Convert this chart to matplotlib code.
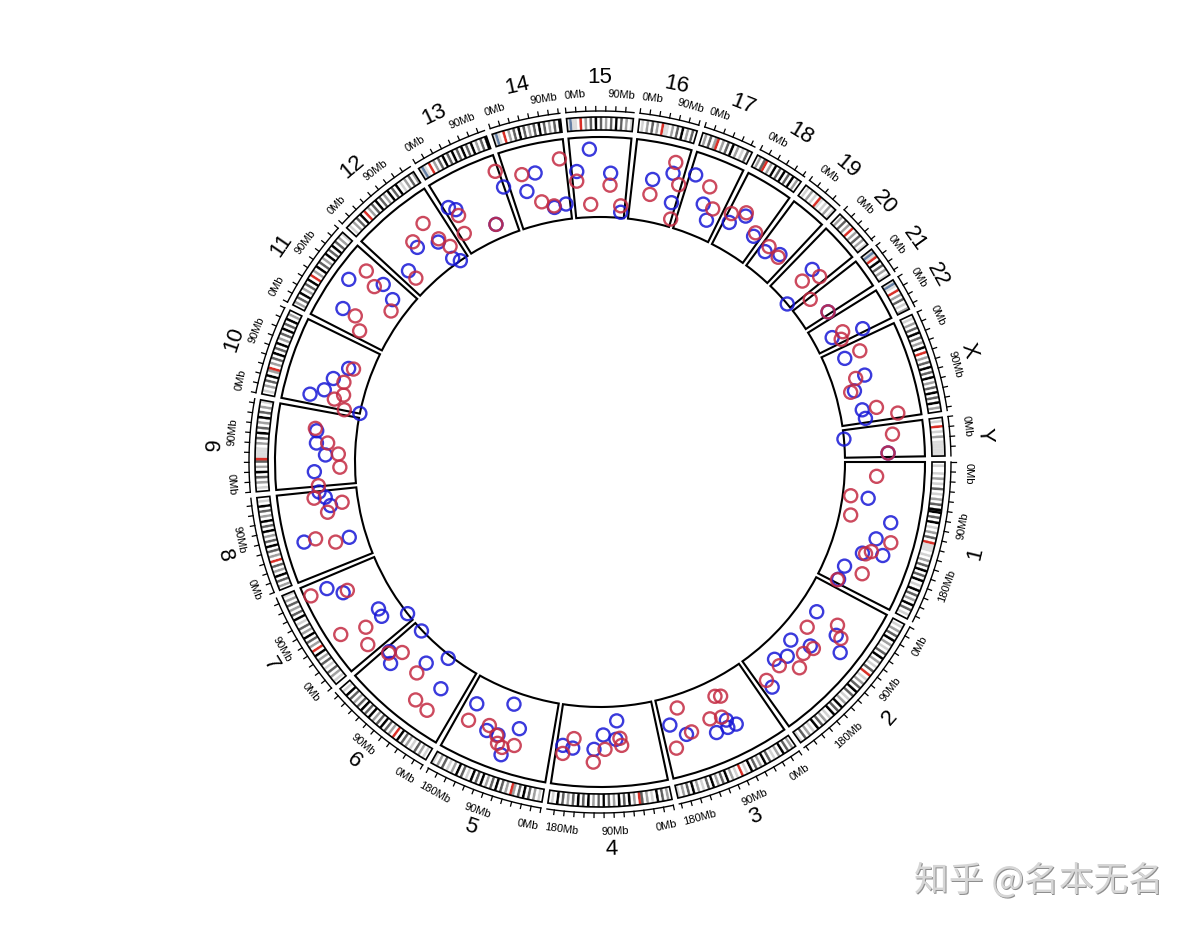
import numpy as np
import matplotlib
matplotlib.use('Agg')
import matplotlib.pyplot as plt
from matplotlib.patches import Wedge

plt.rcParams['font.family'] = ['Liberation Sans', 'DejaVu Sans']

# ---------------- data ----------------
chrom_names = ['1', '2', '3', '4', '5', '6', '7', '8', '9', '10', '11', '12',
               '13', '14', '15', '16', '17', '18', '19', '20', '21', '22', 'X', 'Y']
chrom_lengths = [249.25, 243.20, 198.02, 191.15, 180.92, 171.12, 159.14, 146.36,
                 141.21, 135.53, 135.01, 133.85, 115.17, 107.35, 102.53, 90.35,
                 81.20, 78.08, 59.13, 63.03, 48.13, 51.30, 155.27, 59.37]  # Mb

# approximate cytoband stains, equal-width segments along each chromosome
# 0 gneg, 1 gpos25, 2 gpos50/66, 3 gpos75, 4 gpos100, c acen, g gvar, s stalk
band_codes = [
    "0100102010301020304403040102030" + "c" + "ggg" + "010203040304010403020403010",
    "01020304020103040201030" + "c" + "010203040301020403040102030401020301",
    "02030402010304020304010" + "c" + "01020403020403010204030201",
    "020304010203" + "c" + "02040304020304030204030403020304010",
    "010203040302" + "c" + "02030403020403040103040201030201",
    "010203010203040" + "c" + "020304030204030403020304010",
    "010203010302040" + "c" + "020304020301040302030201",
    "02030402030" + "c" + "0203040302040304020304010",
    "010203040203" + "c" + "gggg020304030204030201",
    "0102030402" + "c" + "02030403040203040304020",
    "0203040203040" + "c" + "02040302040304030201",
    "010203040" + "c" + "020304030204030401020302",
    "gsg0" + "c" + "020304030403040304020304",
    "gsg0" + "c" + "0203040302030403020304",
    "gsgg0" + "c" + "02030403020304030201",
    "010203020" + "c" + "gg02030402030",
    "020302" + "c" + "0203040201030",
    "0203" + "c" + "020403040304020",
    "0102010" + "c" + "g010201",
    "0203020" + "c" + "02030201",
    "gsg" + "c" + "04030201",
    "gsg0" + "c" + "02030102",
    "010203040302040" + "c" + "02030403040203040304020",
    "010" + "c" + "01020gggggg",
]
band_colors = {'0': '#FFFFFF', '1': '#D2D2D2', '2': '#A0A0A0', '3': '#606060',
               '4': '#000000', 'c': '#D92F27', 'g': '#DCDCDC', 's': '#647FA4'}

red_chrom = ['1'] * 8 + ['2'] * 8 + ['3'] * 7 + ['4'] * 6 + ['5'] * 6 + ['6'] * 5 + \
            ['7'] * 5 + ['8'] * 5 + ['9'] * 5 + ['10'] * 5 + ['11'] * 5 + ['12'] * 5 + \
            ['13'] * 4 + ['14'] * 4 + ['15'] * 4 + ['16'] * 4 + ['17'] * 2 + ['18'] * 3 + \
            ['19'] * 2 + ['20'] * 2 + ['21'] * 2 + ['22'] * 2 + ['X'] * 5 + ['Y'] * 2
red_pos = [27.3, 70.6, 110.0, 143.0, 175.8, 168.3, 212.7, 243.0,
           96.9, 59.4, 75.3, 120.7, 140.1, 189.7, 164.4, 226.9,
           157.8, 77.5, 67.2, 104.8, 83.6, 145.7, 180.5,
           73.1, 70.8, 101.9, 122.9, 160.5, 178.2,
           159.3, 120.5, 101.3, 95.1, 85.3, 65.8,
           98.1, 68.6, 41.8, 145.1, 161.8,
           140.5, 121.3, 59.5, 45.1, 17.7,
           61.8, 45.8, 134.6, 104.8, 119.4,
           107.6, 82.3, 61.6, 35.0, 1.2,
           85.4, 54.4, 29.9, 17.8, 1.5,
           112.1, 99.1, 80.7, 34.5, 13.9,
           98.4, 63.4, 104.9, 114.6, 20.3,
           17.3, 9.4, 109.6, 74.4,
           97.6, 27.7, 51.6, 74.2,
           7.7, 70.4, 32.3, 93.9,
           70.4, 85.6, 36.9, 89.0,
           40.4, 61.2,
           6.4, 29.9, 64.5,
           13.6, 40.3,
           53.1, 38.0,
           3.3, 43.6,
           33.5, 45.1,
           19.6, 66.3, 89.9, 130.1, 147.1,
           18.4, 52.1]
red_value = [0.40, 0.10, 0.14, 0.71, 0.45, 0.51, 0.50, 0.25,
             0.25, 0.54, 0.67, 0.48, 0.43, 0.33, 0.52, 0.37,
             0.16, 0.20, 0.23, 0.43, 0.47, 0.50, 0.64,
             0.40, 0.49, 0.53, 0.69, 0.41, 0.61,
             0.56, 0.51, 0.59, 0.68, 0.71, 0.64,
             0.43, 0.70, 0.72, 0.37, 0.50,
             0.92, 0.48, 0.83, 0.52, 0.63,
             0.62, 0.39, 0.54, 0.40, 0.20,
             0.52, 0.35, 0.21, 0.19, 0.47,
             0.23, 0.29, 0.25, 0.35, 0.20,
             0.71, 0.51, 0.16, 0.50, 0.36,
             0.65, 0.55, 0.38, 0.22, 0.19,
             0.49, 0.26, 0.80, 0.18,
             0.76, 0.66, 0.27, 0.19,
             0.46, 0.40, 0.16, 0.15,
             0.80, 0.54, 0.34, 0.10,
             0.64, 0.40,
             0.45, 0.55, 0.40,
             0.36, 0.33,
             0.53, 0.33,
             0.26, 0.35,
             0.38, 0.32,
             0.47, 0.30, 0.19, 0.46, 0.71,
             0.61, 0.54]

blue_chrom = ['1'] * 7 + ['2'] * 8 + ['3'] * 6 + ['4'] * 6 + ['5'] * 6 + ['6'] * 6 + \
             ['7'] * 5 + ['8'] * 5 + ['9'] * 4 + ['10'] * 5 + ['11'] * 4 + ['12'] * 5 + \
             ['13'] * 4 + ['14'] * 4 + ['15'] * 4 + ['16'] * 3 + ['17'] * 3 + ['18'] * 3 + \
             ['19'] * 2 + ['20'] * 2 + ['21'] * 1 + ['22'] * 2 + ['X'] * 5 + ['Y'] * 2
blue_pos = [71.0, 108.8, 143.3, 176.5, 168.6, 212.5, 241.0,
            60.7, 75.7, 138.0, 121.0, 95.6, 165.8, 188.4, 226.1,
            181.3, 78.0, 65.3, 81.4, 156.0, 103.6,
            77.1, 104.8, 80.8, 122.1, 161.3, 179.9,
            159.5, 90.9, 121.3, 65.7, 99.5, 82.8,
            149.7, 67.9, 96.8, 43.6, 162.9, 145.4,
            140.3, 120.9, 60.3, 44.7, 17.1,
            61.6, 47.1, 145.0, 133.8, 116.5,
            103.5, 80.8, 59.0, 27.6,
            83.2, 55.3, 30.3, 16.4, 0.5,
            82.2, 112.6, 101.0, 34.5,
            63.1, 100.6, 20.3, 104.8, 115.2,
            8.7, 18.3, 114.2, 74.4,
            51.3, 28.6, 74.5, 98.7,
            33.4, 9.2, 70.8, 95.0,
            70.4, 36.8, 81.5,
            9.8, 41.0, 59.0,
            10.8, 31.9, 65.0,
            13.5, 39.5,
            34.2, 53.1,
            43.6,
            45.6, 33.9,
            21.7, 65.6, 89.2, 129.4, 147.1,
            19.1, 52.1]
blue_value = [0.32, 0.65, 0.52, 0.41, 0.66, 0.26, 0.26,
              0.23, 0.60, 0.20, 0.43, 0.77, 0.31, 0.23, 0.48,
              0.34, 0.53, 0.63, 0.62, 0.51, 0.62,
              0.18, 0.35, 0.41, 0.53, 0.53, 0.51,
              0.33, 0.15, 0.58, 0.42, 0.58, 0.80,
              0.01, 0.04, 0.26, 0.40, 0.48, 0.57,
              0.70, 0.54, 0.26, 0.28, 0.00,
              0.77, 0.21, 0.47, 0.40, 0.35,
              0.50, 0.49, 0.37, 0.51,
              0.29, 0.43, 0.50, 0.66, 0.00,
              0.82, 0.44, 0.23, 0.68,
              0.46, 0.35, 0.32, 0.08, 0.00,
              0.64, 0.57, 0.58, 0.18,
              0.64, 0.44, 0.17, 0.19,
              0.85, 0.58, 0.55, 0.07,
              0.66, 0.53, 0.30,
              0.72, 0.41, 0.24,
              0.34, 0.51, 0.35,
              0.28, 0.37,
              0.52, 0.00,
              0.35,
              0.62, 0.23,
              0.26, 0.42, 0.24, 0.28, 0.30,
              0.00, 0.54]

tick_step = 15      # Mb
label_step = 90     # Mb
watermark = "知乎 @名本无名"

# ---------------- layout ----------------
W, H = 1200, 928
cx, cy = 600, 465
gap_deg = 1.0
R_TRACK_IN, R_TRACK_OUT = 245, 325
R_IDEO_IN, R_IDEO_OUT = 332, 345
R_AXIS, TICK_LEN = 351, 4.5
R_TICKLAB, R_NAME = 368.5, 386
TICK_FS, NAME_FS = 8, 16

n = len(chrom_names)
deg_per_mb = (360.0 - gap_deg * n) / sum(chrom_lengths)
starts = {}
acc = 0.0
for name, L in zip(chrom_names, chrom_lengths):
    starts[name] = acc
    acc += L * deg_per_mb + gap_deg


def theta_of(name, pos):
    return starts[name] + pos * deg_per_mb   # clockwise degrees from 3 o'clock


def xy(theta, r):
    a = np.deg2rad(-np.asarray(theta))
    return cx + r * np.cos(a), cy + r * np.sin(a)


def facing_rot(theta):
    a = (-theta) % 360.0
    rot = a - 90.0
    flip = 180.0 < a < 360.0
    if flip:
        rot += 180.0
    return rot, flip


fig = plt.figure(figsize=(W / 100, H / 100), dpi=100)
ax = fig.add_axes([0, 0, 1, 1])
ax.set_xlim(0, W)
ax.set_ylim(0, H)
ax.axis('off')

for name, L, code in zip(chrom_names, chrom_lengths, band_codes):
    t0 = starts[name]
    t1 = t0 + L * deg_per_mb
    # track box
    ax.add_patch(Wedge((cx, cy), R_TRACK_OUT, -t1, -t0, width=R_TRACK_OUT - R_TRACK_IN,
                       facecolor='none', edgecolor='black', lw=1.5, zorder=2))
    # ideogram bands
    nb = len(code)
    for i, ch in enumerate(code):
        b0 = t0 + (t1 - t0) * i / nb
        b1 = t0 + (t1 - t0) * (i + 1) / nb
        ax.add_patch(Wedge((cx, cy), R_IDEO_OUT, -b1, -b0, width=R_IDEO_OUT - R_IDEO_IN,
                           facecolor=band_colors[ch], edgecolor=band_colors[ch],
                           lw=0.2, zorder=1))
    ax.add_patch(Wedge((cx, cy), R_IDEO_OUT, -t1, -t0, width=R_IDEO_OUT - R_IDEO_IN,
                       facecolor='none', edgecolor='black', lw=1.2, zorder=2))
    # axis arc
    th = np.linspace(t0, t1, 80)
    x, y = xy(th, R_AXIS)
    ax.plot(x, y, color='black', lw=1.0, zorder=2)
    for m in np.arange(0, L + 1e-6, tick_step):
        tt = theta_of(name, m)
        xa, ya = xy([tt, tt], np.array([R_AXIS, R_AXIS + TICK_LEN]))
        ax.plot(xa, ya, color='black', lw=0.9, zorder=2)
    # tick labels
    marks = np.arange(0, L, label_step)
    for k, m in enumerate(marks):
        txt = f"{int(m)}Mb"
        tt = theta_of(name, m)
        rot, flip = facing_rot(tt)
        half_w = 0.55 * len(txt) * TICK_FS * 1.389 * 0.5 / R_TICKLAB * 180 / np.pi
        if k == 0:
            ha = 'right' if flip else 'left'
        elif tt + half_w > t1:
            tt = t1
            ha = 'left' if flip else 'right'
        else:
            ha = 'center'
        xl, yl = xy(tt, R_TICKLAB)
        ax.text(xl, yl, txt, fontsize=TICK_FS, rotation=rot, rotation_mode='anchor',
                ha=ha, va='center', zorder=3)
    # chromosome name
    tc = (t0 + t1) / 2
    rot, flip = facing_rot(tc)
    xn, yn = xy(tc, R_NAME)
    ax.text(xn, yn, name, fontsize=NAME_FS, rotation=rot, rotation_mode='anchor',
            ha='center', va='center', zorder=3)


def plot_points(chroms, pos, vals, color):
    th = np.array([theta_of(c, p) for c, p in zip(chroms, pos)])
    r = R_TRACK_IN + np.array(vals) * (R_TRACK_OUT - R_TRACK_IN)
    x, y = xy(th, r)
    ax.scatter(x, y, s=88, facecolors='none', edgecolors=color, linewidths=1.7,
               alpha=0.85, zorder=4)


plot_points(blue_chrom, blue_pos, blue_value, '#1717D6')
plot_points(red_chrom, red_pos, red_value, '#C42A42')

# watermark
ax.text(1040, 46, watermark, fontsize=25, color='#8e8e8e', ha='center', va='center',
        family=['Noto Sans CJK SC', 'DejaVu Sans'], zorder=5)
ax.text(1039, 47, watermark, fontsize=25, color='#d6d6d6', ha='center', va='center',
        family=['Noto Sans CJK SC', 'DejaVu Sans'], zorder=6)

fig.savefig('out.png', dpi=100)
